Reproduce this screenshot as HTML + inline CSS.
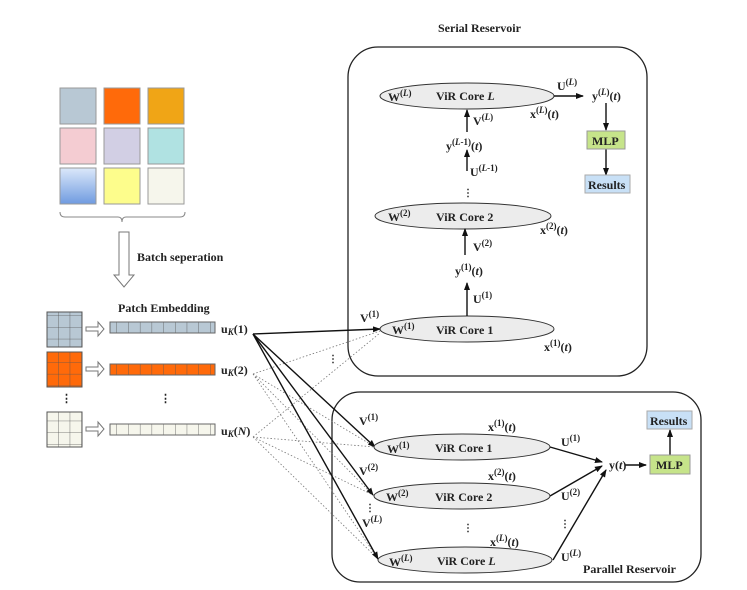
<!DOCTYPE html>
<html><head><meta charset="utf-8"><style>
html,body{margin:0;padding:0;background:#fff}
svg{display:block;font-family:"Liberation Serif",serif;font-weight:bold}
text{fill:#222}
</style></head><body>
<svg width="747" height="590" viewBox="0 0 747 590" xmlns="http://www.w3.org/2000/svg">
<defs>
<marker id="a" markerWidth="8" markerHeight="8" refX="7" refY="4" orient="auto" markerUnits="userSpaceOnUse"><path d="M0,1 L8,4 L0,7 z" fill="#111"/></marker>
<linearGradient id="bl" x1="0" y1="0" x2="0" y2="1"><stop offset="0" stop-color="#dbe8fa"/><stop offset="1" stop-color="#6f9be0"/></linearGradient>
<pattern id="g" width="11.7" height="11.7" patternUnits="userSpaceOnUse"><path d="M11.7,0 V11.7 H0" fill="none" stroke="#555" stroke-width="0.8"/></pattern>
<pattern id="b" width="11.7" height="11" patternUnits="userSpaceOnUse"><path d="M11.7,0 V11" fill="none" stroke="#555" stroke-width="0.8"/></pattern>
</defs>
<!-- big grid -->
<g stroke="#999" stroke-width="1">
<rect x="60" y="88" width="36" height="36" fill="#b8c8d4"/>
<rect x="104" y="88" width="36" height="36" fill="#ff6a0a"/>
<rect x="148" y="88" width="36" height="36" fill="#f0a516"/>
<rect x="60" y="128" width="36" height="36" fill="#f4ccd2"/>
<rect x="104" y="128" width="36" height="36" fill="#d2cfe4"/>
<rect x="148" y="128" width="36" height="36" fill="#b0e2e2"/>
<rect x="60" y="168" width="36" height="36" fill="url(#bl)"/>
<rect x="104" y="168" width="36" height="36" fill="#fdfd8c"/>
<rect x="148" y="168" width="36" height="36" fill="#f6f6ec"/>
</g>
<path d="M60,212 q0,5 5,5 H118 q4,0 4,5 q0,-5 4,-5 H180 q5,0 5,-5" fill="none" stroke="#888"/>
<path d="M119,232 H129 V275 H134 L124,287 L114,275 H119 Z" fill="#fff" stroke="#777"/>
<text x="137" y="261" font-size="12">Batch seperation</text>
<text x="118" y="312" font-size="12">Patch Embedding</text>
<!-- small grids -->
<rect x="47" y="312" width="35" height="35" fill="#b8c8d4"/><rect x="47" y="312" width="35" height="35" fill="url(#g)" stroke="#555"/>
<rect x="47" y="352" width="35" height="35" fill="#ff6a0a"/><rect x="47" y="352" width="35" height="35" fill="url(#g)" stroke="#555"/>
<rect x="47" y="412" width="35" height="35" fill="#f6f6ec"/><rect x="47" y="412" width="35" height="35" fill="url(#g)" stroke="#555"/>
<text x="61" y="402" font-size="11">⋮</text>
<text x="160" y="402" font-size="11">⋮</text>
<g fill="#fff" stroke="#777">
<path d="M86,327 H98 V322 L104,329 L98,336 V331 H86 Z"/>
<path d="M86,367 H98 V362 L104,369 L98,376 V371 H86 Z"/>
<path d="M86,427 H98 V422 L104,429 L98,436 V431 H86 Z"/>
</g>
<rect x="110" y="322" width="105" height="11" fill="#b8c8d4"/><rect x="110" y="322" width="105" height="11" fill="url(#b)" stroke="#666"/>
<rect x="110" y="364" width="105" height="11" fill="#ff6a0a"/><rect x="110" y="364" width="105" height="11" fill="url(#b)" stroke="#666"/>
<rect x="110" y="424" width="105" height="11" fill="#f6f6ec"/><rect x="110" y="424" width="105" height="11" fill="url(#b)" stroke="#666"/>
<g font-size="12">
<text x="221" y="333">u<tspan font-size="9" dy="2" font-style="italic">K</tspan><tspan dy="-2">(1)</tspan></text>
<text x="221" y="374">u<tspan font-size="9" dy="2" font-style="italic">K</tspan><tspan dy="-2">(2)</tspan></text>
<text x="221" y="435">u<tspan font-size="9" dy="2" font-style="italic">K</tspan><tspan dy="-2">(<tspan font-style="italic">N</tspan>)</tspan></text>
</g>
<!-- boxes -->
<rect x="348" y="47" width="299" height="329" rx="30" fill="none" stroke="#222" stroke-width="1.3"/>
<rect x="332" y="392" width="369" height="190" rx="28" fill="none" stroke="#222" stroke-width="1.3"/>
<text x="438" y="32" font-size="12">Serial Reservoir</text>
<text x="583" y="573" font-size="12">Parallel Reservoir</text>
<!-- dotted -->
<g stroke="#777" stroke-width="0.8" stroke-dasharray="1.5,2" fill="none">
<path d="M253,374 L380,331 M253,437 L380,333"/>
<path d="M253,374 L375,447 M253,374 L373,495 M253,374 L378,559"/>
<path d="M253,437 L375,447 M253,437 L373,495 M253,437 L378,559"/>
</g>
<text x="328" y="362" font-size="10">⋮</text>
<!-- solid -->
<g stroke="#111" stroke-width="1.4" fill="none" marker-end="url(#a)">
<path d="M253,334 L380,329"/>
<path d="M253,334 L375,447"/>
<path d="M253,334 L373,495"/>
<path d="M253,334 L378,559"/>
</g>
<!-- serial ellipses -->
<g fill="#ececec" stroke="#333" stroke-width="1">
<ellipse cx="467" cy="96" rx="87" ry="13"/>
<ellipse cx="463" cy="216" rx="88" ry="13"/>
<ellipse cx="467" cy="329" rx="87" ry="13"/>
<ellipse cx="462" cy="447" rx="88" ry="13"/>
<ellipse cx="462" cy="496" rx="88" ry="13"/>
<ellipse cx="465" cy="560" rx="87" ry="13"/>
</g>
<g font-size="12">
<text x="388" y="101">W<tspan font-size="9" dy="-5">(<tspan font-style="italic">L</tspan>)</tspan></text>
<text x="436" y="100">ViR Core <tspan font-style="italic">L</tspan></text>
<text x="388" y="221">W<tspan font-size="9" dy="-5">(2)</tspan></text>
<text x="436" y="221">ViR Core 2</text>
<text x="392" y="334">W<tspan font-size="9" dy="-5">(1)</tspan></text>
<text x="436" y="334">ViR Core 1</text>
<text x="387" y="453">W<tspan font-size="9" dy="-5">(1)</tspan></text>
<text x="435" y="452">ViR Core 1</text>
<text x="386" y="501">W<tspan font-size="9" dy="-5">(2)</tspan></text>
<text x="435" y="501">ViR Core 2</text>
<text x="389" y="566">W<tspan font-size="9" dy="-5">(<tspan font-style="italic">L</tspan>)</tspan></text>
<text x="437" y="565">ViR Core <tspan font-style="italic">L</tspan></text>
</g>
<!-- serial arrows -->
<g stroke="#111" stroke-width="1.4" fill="none" marker-end="url(#a)">
<path d="M467,316 V283"/>
<path d="M465,255 V229"/>
<path d="M467,171 V150"/>
<path d="M467,132 V110"/>
<path d="M554,96 H583"/>
<path d="M606,103 V130"/>
<path d="M606,149 V175"/>
</g>
<g font-size="12">
<text x="360" y="322">V<tspan font-size="9" dy="-5">(1)</tspan></text>
<text x="473" y="303">U<tspan font-size="9" dy="-5">(1)</tspan></text>
<text x="455" y="275">y<tspan font-size="9" dy="-5">(1)</tspan><tspan dy="5">(<tspan font-style="italic">t</tspan>)</tspan></text>
<text x="473" y="251">V<tspan font-size="9" dy="-5">(2)</tspan></text>
<text x="540" y="234">x<tspan font-size="9" dy="-5">(2)</tspan><tspan dy="5">(<tspan font-style="italic">t</tspan>)</tspan></text>
<text x="544" y="351">x<tspan font-size="9" dy="-5">(1)</tspan><tspan dy="5">(<tspan font-style="italic">t</tspan>)</tspan></text>
<text x="463" y="196" font-size="10">⋮</text>
<text x="470" y="176">U<tspan font-size="9" dy="-5">(<tspan font-style="italic">L</tspan>-1)</tspan></text>
<text x="446" y="150">y<tspan font-size="9" dy="-5">(<tspan font-style="italic">L</tspan>-1)</tspan><tspan dy="5">(<tspan font-style="italic">t</tspan>)</tspan></text>
<text x="473" y="125">V<tspan font-size="9" dy="-5">(<tspan font-style="italic">L</tspan>)</tspan></text>
<text x="530" y="118">x<tspan font-size="9" dy="-5">(<tspan font-style="italic">L</tspan>)</tspan><tspan dy="5">(<tspan font-style="italic">t</tspan>)</tspan></text>
<text x="557" y="90">U<tspan font-size="9" dy="-5">(<tspan font-style="italic">L</tspan>)</tspan></text>
<text x="592" y="100">y<tspan font-size="9" dy="-5">(<tspan font-style="italic">L</tspan>)</tspan><tspan dy="5">(<tspan font-style="italic">t</tspan>)</tspan></text>
</g>
<rect x="587" y="131" width="38" height="18" fill="#c6e48a" stroke="#999"/>
<text x="592" y="145" font-size="12">MLP</text>
<rect x="585" y="175" width="45" height="18" fill="#c8e0f6" stroke="#aaa"/>
<text x="588" y="189" font-size="12">Results</text>
<!-- parallel -->
<g stroke="#111" stroke-width="1.4" fill="none" marker-end="url(#a)">
<path d="M550,447 L602,462"/>
<path d="M550,496 L602,466"/>
<path d="M553,560 L606,470"/>
<path d="M625,465 H646"/>
<path d="M670,455 V430"/>
</g>
<g font-size="12">
<text x="359" y="425">V<tspan font-size="9" dy="-5">(1)</tspan></text>
<text x="359" y="475">V<tspan font-size="9" dy="-5">(2)</tspan></text>
<text x="362" y="527">V<tspan font-size="9" dy="-5">(<tspan font-style="italic">L</tspan>)</tspan></text>
<text x="365" y="511" font-size="10">⋮</text>
<text x="463" y="531" font-size="10">⋮</text>
<text x="560" y="527" font-size="10">⋮</text>
<text x="488" y="431">x<tspan font-size="9" dy="-5">(1)</tspan><tspan dy="5">(<tspan font-style="italic">t</tspan>)</tspan></text>
<text x="488" y="480">x<tspan font-size="9" dy="-5">(2)</tspan><tspan dy="5">(<tspan font-style="italic">t</tspan>)</tspan></text>
<text x="490" y="546">x<tspan font-size="9" dy="-5">(<tspan font-style="italic">L</tspan>)</tspan><tspan dy="5">(<tspan font-style="italic">t</tspan>)</tspan></text>
<text x="561" y="446">U<tspan font-size="9" dy="-5">(1)</tspan></text>
<text x="561" y="500">U<tspan font-size="9" dy="-5">(2)</tspan></text>
<text x="561" y="561">U<tspan font-size="9" dy="-5">(<tspan font-style="italic">L</tspan>)</tspan></text>
<text x="609" y="469">y(<tspan font-style="italic">t</tspan>)</text>
</g>
<rect x="650" y="455" width="40" height="19" fill="#c6e48a" stroke="#999"/>
<text x="656" y="469" font-size="12">MLP</text>
<rect x="647" y="411" width="45" height="18" fill="#c8e0f6" stroke="#aaa"/>
<text x="650" y="425" font-size="12">Results</text>
</svg>
</body></html>
